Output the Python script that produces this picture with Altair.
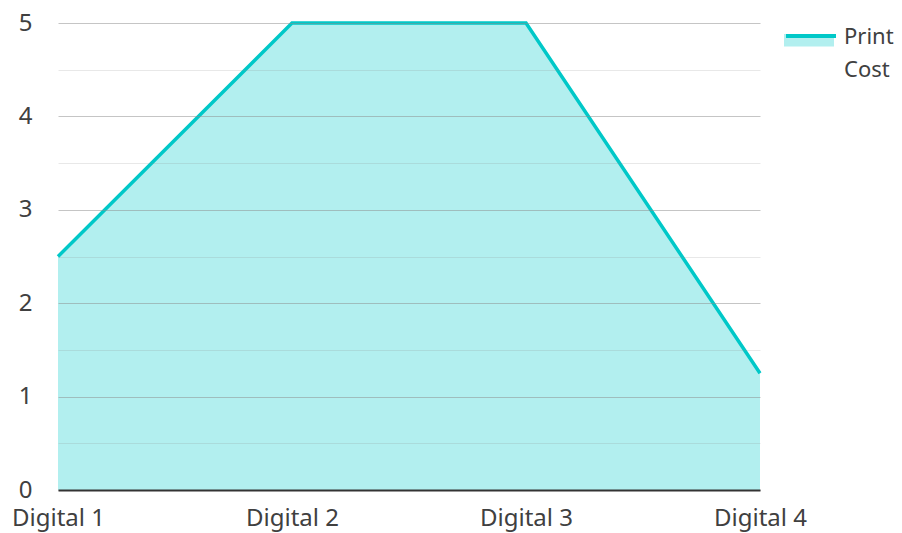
import altair as alt
import pandas as pd

categories = ["Digital 1", "Digital 2", "Digital 3", "Digital 4"]
values = [2.5, 5, 5, 1.25]
series = "Print Cost"

df = pd.DataFrame({"cat": categories, "val": values, "series": [series] * len(categories)})

FS = 24
LFS = 22
x = alt.X("cat:N", sort=categories, title=None,
          scale=alt.Scale(type="point", padding=0),
          axis=alt.Axis(labelAngle=0, ticks=False, grid=False, domainColor="#333333",
                        domainWidth=2, labelPadding=16, labelFontSize=FS,
                        labelColor="#404040", labelFont="Noto Sans", zindex=1))
y = alt.Y("val:Q", title=None,
          scale=alt.Scale(domain=[0, 5], nice=False),
          axis=alt.Axis(values=[i / 2 for i in range(11)], ticks=False, domain=False,
                        labelExpr="datum.value % 1 === 0 ? format(datum.value, 'd') : ''",
                        labelPadding=26, labelFontSize=FS, labelColor="#404040",
                        labelFont="Noto Sans", gridColor="#8c8c8c",
                        gridOpacity={"condition": {"test": "datum.value % 1 === 0", "value": 0.5}, "value": 0.2},
                        zindex=1))

LX, LY = 726, -23
area = alt.Chart(df).mark_area(opacity=1).encode(
    x=x, y=y,
    fill=alt.Fill("series:N", scale=alt.Scale(range=["#b2efef"]),
                  legend=alt.Legend(title=None, orient="none", legendX=LX, legendY=LY,
                                    symbolType="M-1,0.36 H1 V0.86 H-1 Z", symbolSize=2500,
                                    symbolStrokeWidth=0, labelOpacity=0, labelFontSize=LFS,
                                    labelFont="Noto Sans", padding=0, labelBaseline="top",
                                    labelOffset=6,
                                    labelExpr="split(datum.label, ' ')")),
)
line = alt.Chart(df).mark_line(strokeWidth=3.5).encode(
    x=x, y=y,
    stroke=alt.Stroke("series:N", scale=alt.Scale(range=["#00c8c8"]),
                      legend=alt.Legend(title=None, orient="none", legendX=LX, legendY=LY,
                                        symbolType="M-1,0.36 H1", symbolSize=2500,
                                        symbolStrokeWidth=4, labelFontSize=LFS,
                                        labelFont="Noto Sans", labelColor="#404040",
                                        labelExpr="split(datum.label, ' ')", padding=0,
                                        labelOffset=6, labelBaseline="top")),
)

chart = alt.layer(area, line).resolve_scale(fill="independent", stroke="independent").resolve_legend(
    fill="independent", stroke="independent"
).properties(
    width=702, height=467,
    autosize=alt.AutoSizeParams(type="none"),
    padding={"left": 50, "top": 15, "right": 134, "bottom": 44},
).configure(style={"guide-label": {"lineHeight": 33}}).configure_view(stroke=None)

chart.save("out.html", embed_options={"renderer": "svg", "actions": False})
